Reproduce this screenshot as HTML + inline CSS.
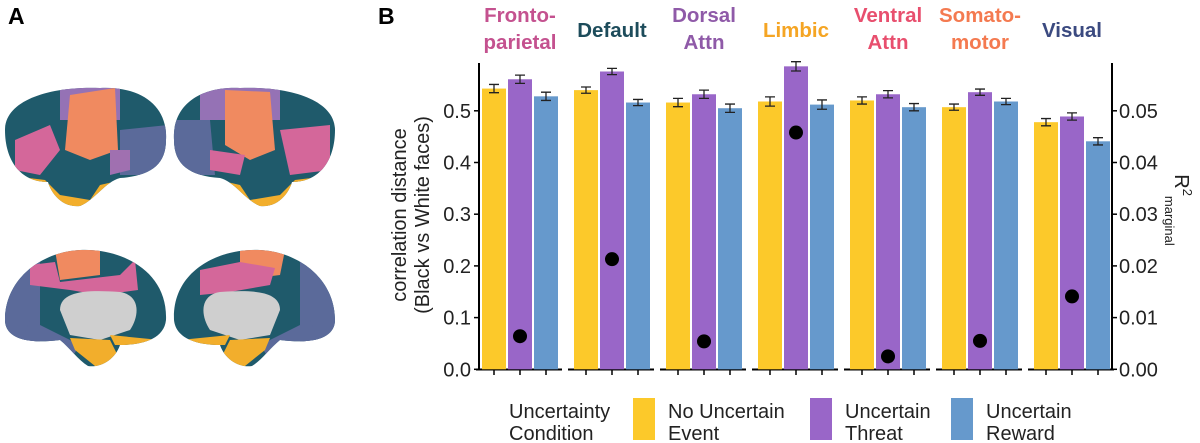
<!DOCTYPE html>
<html><head><meta charset="utf-8"><style>
html,body{margin:0;padding:0;background:#fff;width:1200px;height:443px;overflow:hidden}
svg{display:block;font-family:"Liberation Sans",Arial,sans-serif}
</style></head><body>
<svg id="fig" width="1200" height="443" viewBox="0 0 1200 443">
<text x="8" y="24" font-size="23" font-weight="bold">A</text>
<text x="378" y="24" font-size="23" font-weight="bold">B</text>
<defs>
<clipPath id="c1"><path d="M5,130 C5,100 50,86 100,88 C140,86 168,105 166,140 C166,165 150,176 120,178 C105,182 95,200 80,206 C60,208 50,190 48,182 C20,182 5,160 5,130Z"/></clipPath>
<clipPath id="c2"><path d="M335,130 C335,100 290,86 240,88 C200,86 172,105 174,140 C174,165 190,176 220,178 C235,182 245,200 260,206 C280,208 290,190 292,182 C320,182 335,160 335,130Z"/></clipPath>
<clipPath id="c3"><path d="M5,320 C5,280 40,252 80,250 C120,248 168,270 166,320 C164,340 140,345 120,345 C115,360 100,368 88,366 C78,360 70,348 60,340 C20,345 5,335 5,320Z"/></clipPath>
<clipPath id="c4"><path d="M335,320 C335,280 300,252 260,250 C220,248 172,270 174,320 C176,340 200,345 220,345 C225,360 240,368 252,366 C262,360 270,348 280,340 C320,345 335,335 335,320Z"/></clipPath>
</defs>
<g clip-path="url(#c1)">
<rect x="0" y="80" width="170" height="130" fill="#1f5a6b"/>
<rect x="60" y="80" width="60" height="40" fill="#9572b5"/>
<path d="M70,95 L115,88 L118,150 L90,160 L65,150Z" fill="#f08a60"/>
<path d="M15,140 L50,125 L60,150 L40,175 L15,170Z" fill="#d4679a"/>
<path d="M120,130 L168,125 L168,175 L120,175Z" fill="#5b6a9a"/>
<path d="M110,150 L130,150 L130,170 L110,175Z" fill="#a070b0"/>
<path d="M5,175 L45,180 L60,195 L90,200 L100,185 L130,178 L100,210 L50,210 L5,190Z" fill="#f2ae2c"/>
</g>
<g clip-path="url(#c2)">
<rect x="170" y="80" width="170" height="130" fill="#1f5a6b"/>
<rect x="200" y="80" width="80" height="40" fill="#9572b5"/>
<path d="M225,90 L270,92 L275,150 L250,160 L225,145Z" fill="#f08a60"/>
<path d="M280,130 L330,125 L330,170 L290,175Z" fill="#d4679a"/>
<path d="M172,120 L210,120 L215,175 L172,175Z" fill="#5b6a9a"/>
<path d="M210,150 L245,155 L240,175 L210,170Z" fill="#d4679a"/>
<path d="M335,175 L295,180 L280,195 L250,200 L240,185 L210,178 L240,210 L290,210 L335,190Z" fill="#f2ae2c"/>
</g>
<g clip-path="url(#c3)">
<rect x="0" y="245" width="170" height="125" fill="#1f5a6b"/>
<rect x="0" y="245" width="40" height="125" fill="#5b6a9a"/>
<path d="M30,320 L80,345 L70,360 L20,345Z" fill="#5b6a9a"/>
<path d="M55,250 L100,250 L100,275 L60,280Z" fill="#f08a60"/>
<path d="M30,265 L55,262 L60,282 L120,275 L135,260 L138,290 L100,295 L70,290 L30,285Z" fill="#d4679a"/>
<path d="M60,310 C60,290 90,290 120,292 C140,295 140,315 130,330 L100,340 L70,335Z" fill="#cfcfcf"/>
<path d="M70,338 L110,340 L120,360 L100,370 L75,350Z" fill="#f2ae2c"/>
<path d="M110,335 L160,340 L150,345 L115,345Z" fill="#f2ae2c"/>
</g>
<g clip-path="url(#c4)">
<rect x="170" y="245" width="170" height="125" fill="#1f5a6b"/>
<rect x="300" y="245" width="40" height="125" fill="#5b6a9a"/>
<path d="M310,320 L260,345 L270,360 L320,345Z" fill="#5b6a9a"/>
<path d="M240,250 L285,250 L280,275 L240,280Z" fill="#f08a60"/>
<path d="M200,270 L240,262 L275,268 L270,285 L230,292 L200,295Z" fill="#d4679a"/>
<path d="M280,310 C280,290 250,290 220,292 C200,295 200,315 210,330 L240,340 L270,335Z" fill="#cfcfcf"/>
<path d="M270,338 L230,340 L220,360 L240,370 L265,350Z" fill="#f2ae2c"/>
<path d="M230,335 L180,340 L190,345 L225,345Z" fill="#f2ae2c"/>
</g>
<g id="chart"></g>
</svg>
<script>
const networks = ["Fronto-parietal","Default","Dorsal Attn","Limbic","Ventral Attn","Somato-motor","Visual"];
const titleLines = [["Fronto-","parietal"],["Default"],["Dorsal","Attn"],["Limbic"],["Ventral","Attn"],["Somato-","motor"],["Visual"]];
const titleColors = ["#c4518f","#1d4c5b","#8f5aa8","#f5a524","#e84f6e","#f47a50","#3b4a80"];
const noUncertain = [0.543,0.540,0.516,0.518,0.520,0.507,0.478];
const threat = [0.561,0.576,0.532,0.586,0.532,0.536,0.489];
const reward = [0.528,0.516,0.505,0.512,0.507,0.518,0.441];
const errs = [0.008,0.006,0.008,0.009,0.007,0.006,0.007];
const r2 = [0.0064,0.0213,0.0054,0.0458,0.0025,0.0055,0.0141];
const leftTicks = [0.0,0.1,0.2,0.3,0.4,0.5];
const rightTicks = [0.00,0.01,0.02,0.03,0.04,0.05];
const NS="http://www.w3.org/2000/svg";
const g=document.getElementById('chart');
const y0=369.3, pxPer=517;
const y=v=>y0-v*pxPer;
const yR=v=>y0-v*pxPer*10;
const facetX=i=>476+i*92;
const colors=["#fcc92a","#9966c8","#6699cc"];
function mk(tag,attrs,parent){const e=document.createElementNS(NS,tag);for(const k in attrs)e.setAttribute(k,attrs[k]);(parent||g).appendChild(e);return e;}
let ax=mk('line',{x1:479,x2:479,y1:63,y2:370,stroke:'#000','stroke-width':2});


let ax2=mk('line',{x1:1112,x2:1112,y1:63,y2:370,stroke:'#000','stroke-width':2});


leftTicks.forEach(v=>{
  mk('line',{x1:474,x2:479,y1:y(v),y2:y(v),stroke:'#000','stroke-width':1.5});
  const t=mk('text',{x:471,y:y(v)+7,'text-anchor':'end','font-size':20,fill:'#222'});
  t.textContent=v.toFixed(1);
  
  
});
rightTicks.forEach(v=>{
  mk('line',{x1:1112,x2:1117,y1:yR(v),y2:yR(v),stroke:'#000','stroke-width':1.5});
  const t=mk('text',{x:1119,y:yR(v)+7,'font-size':20,fill:'#222'});
  t.textContent=v.toFixed(2);
  
  
});
const yt=mk('text',{transform:'translate(406,215) rotate(-90)','text-anchor':'middle','font-size':20,fill:'#222'});
yt.textContent='correlation distance';


const yt2=mk('text',{transform:'translate(429,215) rotate(-90)','text-anchor':'middle','font-size':20,fill:'#222'});
yt2.textContent='(Black vs White faces)';


const rt=mk('text',{transform:'translate(1175,210) rotate(90)','text-anchor':'middle','font-size':20,fill:'#222'});
rt.innerHTML='R<tspan dy="-8" font-size="13">2</tspan><tspan dy="18" font-size="13">marginal</tspan>';


networks.forEach((n,i)=>{
  const fx=facetX(i);
  const base=mk('line',{x1:fx,x2:fx+86,y1:369.5,y2:369.5,stroke:'#000','stroke-width':2});
  
  
  const lines=titleLines[i];
  lines.forEach((ln,j)=>{
    const t=mk('text',{x:fx+44,y:(lines.length===2?22+j*27:37),'text-anchor':'middle','font-size':20.5,'font-weight':'bold',fill:titleColors[i]});
    t.textContent=ln;
    
    
  });
  [noUncertain[i],threat[i],reward[i]].forEach((v,k)=>{
    const cx=fx+18+k*26;
    const b=mk('rect',{x:cx-12,y:y(v),width:24,height:y0-y(v),fill:colors[k]});
    
    
    const e=errs[i];
    const eb=mk('path',{d:`M${cx-5},${y(v+e)}H${cx+5}M${cx},${y(v+e)}V${y(v-e)}M${cx-5},${y(v-e)}H${cx+5}`,stroke:'#222','stroke-width':1.3,fill:'none'});
    
    
    mk('line',{x1:cx,x2:cx,y1:370,y2:375,stroke:'#000','stroke-width':1.5});
  });
  const d=mk('circle',{cx:fx+44,cy:yR(r2[i]),r:7,fill:'#000'});
  
  
});
const lg=mk('g',{});


function txt(x,yy,s,name){const t=mk('text',{x:x,y:yy,'font-size':20,fill:'#222'},lg);t.textContent=s;}
txt(509,418,'Uncertainty','legend-title');
txt(509,440,'Condition','legend-title');
const items=[[633,'No Uncertain','Event'],[810,'Uncertain','Threat'],[951,'Uncertain','Reward']];
items.forEach((it,k)=>{
  const s=mk('rect',{x:it[0],y:398,width:22,height:42,fill:colors[k]},lg);
  
  
  txt(it[0]+35,418,it[1],'legend-entry');
  txt(it[0]+35,440,it[2],'legend-entry');
});
</script>
</body></html>
